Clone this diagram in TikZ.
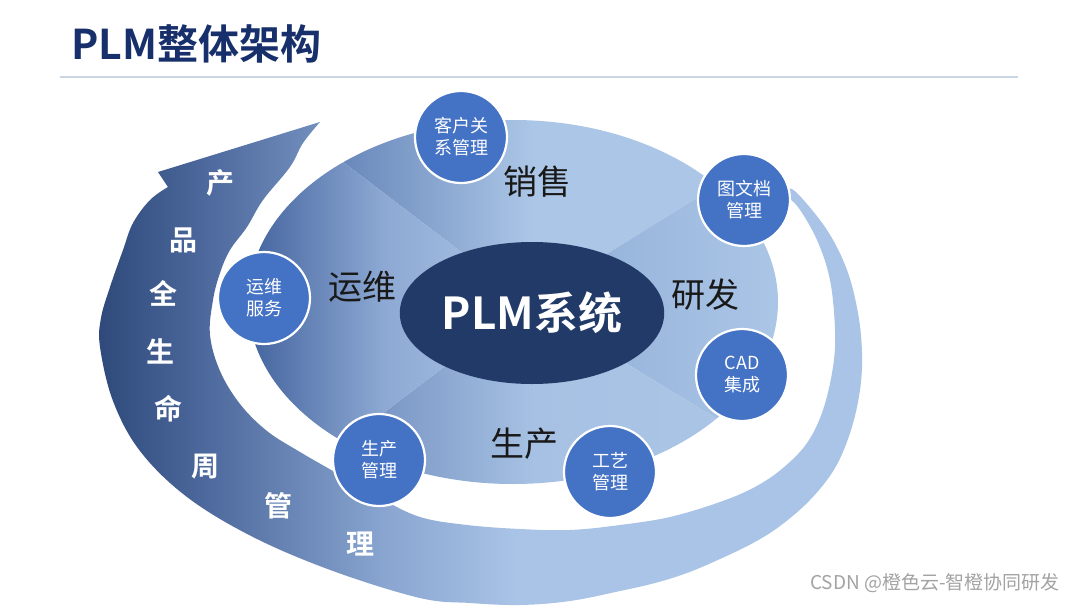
\documentclass[tikz,border=0pt]{standalone}
\usepackage{fontspec}
\setmainfont{Noto Sans CJK SC}[BoldFont={Noto Sans CJK SC Bold}]
\usepackage{xcolor}
\usepackage{tikz}
\usetikzlibrary{shapes.geometric}

\definecolor{titlenavy}{HTML}{17306C}
\definecolor{ruleline}{HTML}{C9D5E2}
\definecolor{banddark}{HTML}{2E497A}
\definecolor{bandmidA}{HTML}{4F6B9F}
\definecolor{bandmidB}{HTML}{8AA6D1}
\definecolor{bandlight}{HTML}{A9C4E6}
\definecolor{sectlight}{HTML}{ABC6E6}
\definecolor{salesdark}{HTML}{5575AD}
\definecolor{rnddark}{HTML}{8FADD7}
\definecolor{proddark}{HTML}{5F7DB2}
\definecolor{prodmid}{HTML}{A6C1E3}
\definecolor{opsdark}{HTML}{42629D}
\definecolor{opsmid}{HTML}{8EAAD4}
\definecolor{circblue}{HTML}{4472C4}
\definecolor{plmnavy}{HTML}{213A68}
\definecolor{markgray}{HTML}{A3A3A3}

\pgfdeclarehorizontalshading{bandgrad}{100bp}{color(0bp)=(banddark); color(25bp)=(banddark); color(32.5bp)=(bandmidA); color(44bp)=(bandmidB); color(52.5bp)=(bandlight); color(100bp)=(bandlight)}

\tikzset{
    subcircle/.style={circle, fill=circblue, draw=white, line width=2.2pt, minimum size=92pt,
        text=white, align=center, inner sep=0pt, font=\fontsize{18}{22}\selectfont},
    sectorlabel/.style={text=black!90, font=\fontsize{34}{36}\selectfont},
    lifechar/.style={text=white, font=\bfseries\fontsize{28}{30}\selectfont},
}

\begin{document}
\begin{tikzpicture}[x=1pt, y=-1pt]
    \useasboundingbox[fill=white] (0,0) rectangle (1080,608);

    % title and rule
    \node[anchor=west, text=titlenavy, font=\bfseries\fontsize{41}{44}\selectfont] (title) at (68,44) {PLM整体架构};
    \draw[ruleline, line width=1.6pt] (60,77) -- (1018,77);

    % lifecycle arrow band
    \shade[shading=bandgrad]
        plot[smooth, tension=0.6] coordinates {(785,188) (797,193) (827,230) (847,270) (858,313) (862,353) (860,390) (851,430) (835,468) (810,500) (780,526) (753,543) (720,559) (687,573) (655,583) (620,591) (570,601) (520,605) (470,603) (420,598) (333,571) (253,537) (187,497) (140,451) (113,401) (100,347) (101,318) (110,287) (123,250) (133,223) (150,200) (168,187)}
        -- (158,172) -- (320,122)
        -- plot[smooth, tension=0.6] coordinates {(320,122) (303,143) (290,167) (263,200) (247,227) (230,250) (220,273) (213,300) (210,335) (220,371) (240,404) (267,431) (300,452) (340,475) (380,498) (420,517) (467,525) (520,529) (570,530) (620,525) (670,517) (720,502) (755,487) (783,468) (807,443) (823,410) (833,367) (835,330) (830,280) (817,240) (798,207) (785,196)}
        -- cycle;

    % four sectors of the disc
    \begin{scope}
        \clip (513,302) ellipse [x radius=265, y radius=182];
        \shade[left color=salesdark, right color=sectlight, middle color=sectlight] (528,303) -- (284,117) -- (782,117) -- (782,145) -- cycle;
        \shade[left color=rnddark, right color=sectlight] (528,303) -- (782,145) -- (782,459) -- cycle;
        \shade[left color=proddark, right color=sectlight, middle color=prodmid] (528,303) -- (782,459) -- (782,487) -- (286,487) -- cycle;
        \shade[left color=opsdark, right color=sectlight, middle color=opsmid] (528,303) -- (286,487) -- (245,487) -- (245,117) -- (284,117) -- cycle;
    \end{scope}

    \node[ellipse, fill=plmnavy, minimum width=226pt, minimum height=142pt, text=white,
        font=\bfseries\fontsize{44}{46}\selectfont] (plm) at (532,313) {PLM系统};

    \node[sectorlabel] (sales) at (537,182) {销售};
    \node[sectorlabel] (rnd)   at (705,295) {研发};
    \node[sectorlabel] (prod)  at (524,444) {生产};
    \node[sectorlabel] (ops)   at (362,287) {运维};

    \node[subcircle] (crm)  at (461,137) {客户关\\系管理};
    \node[subcircle] (docs) at (744,200) {图文档\\管理};
    \node[subcircle] (cad)  at (742,375) {CAD\\集成};
    \node[subcircle] (proc) at (610,472) {工艺\\管理};
    \node[subcircle] (mfg)  at (379,460) {生产\\管理};
    \node[subcircle] (svc)  at (264,298) {运维\\服务};

    \foreach \ch/\px/\py [count=\i] in {产/220/183, 品/183/240, 全/163/293, 生/160/351, 命/168/409, 周/205/467, 管/278/506, 理/360/544}
        \node[lifechar] (life\i) at (\px,\py) {\ch};

    \node[text=markgray, font=\fontsize{19}{21}\selectfont] (mark) at (935,583) {CSDN @橙色云-智橙协同研发};
\end{tikzpicture}
\end{document}
